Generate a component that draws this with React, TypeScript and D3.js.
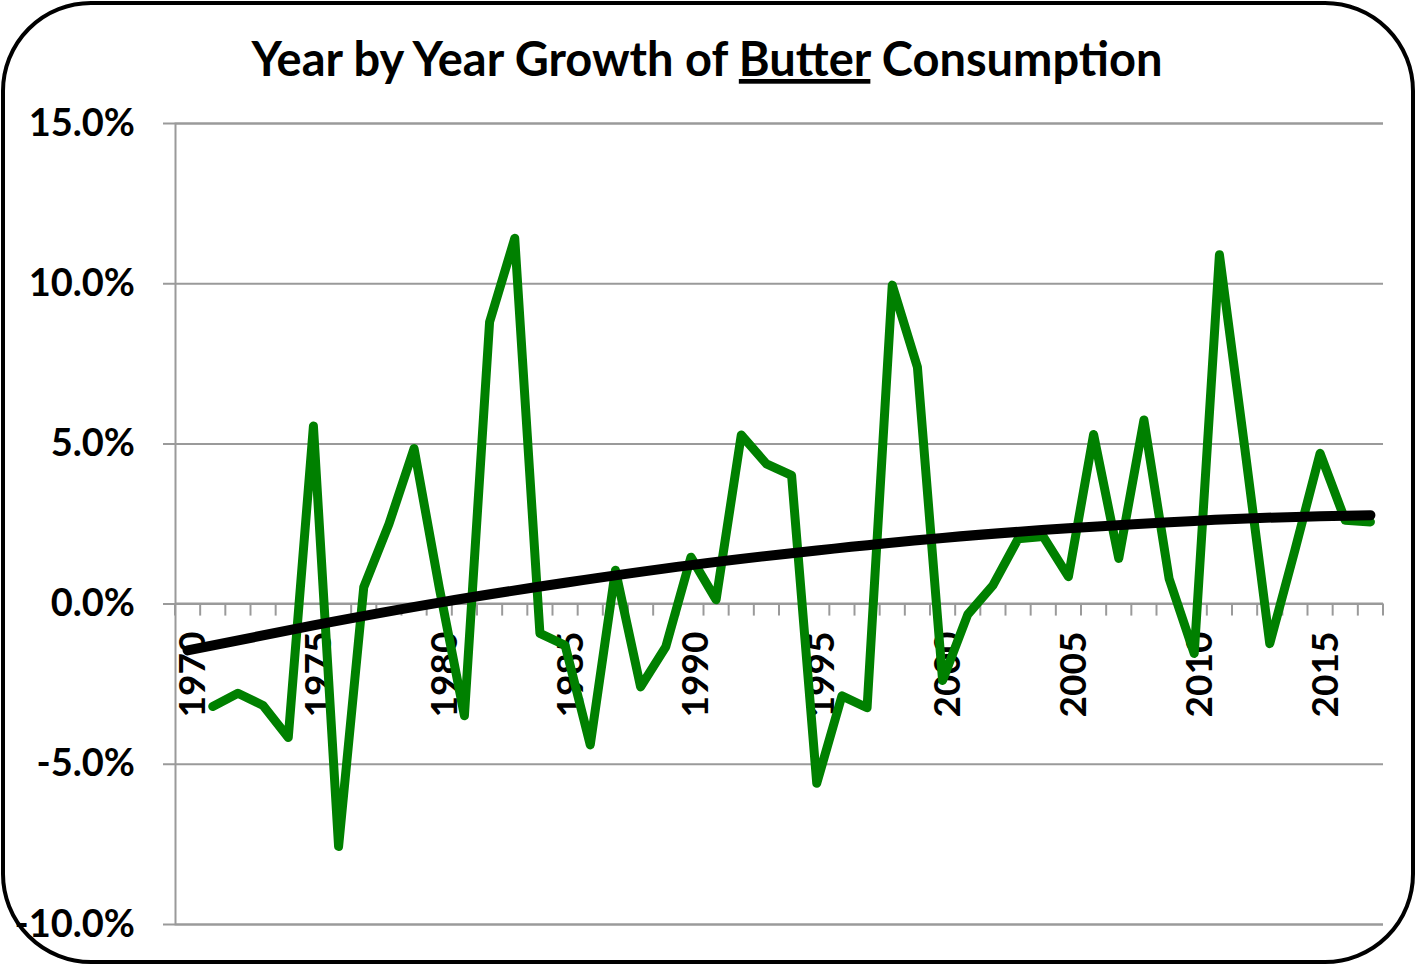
import { useEffect, useRef } from "react";
import * as d3 from "d3";

// one category per year, first year has no growth value
const years = d3.range(1970, 2018);
const growth: (number | null)[] = [
  null, -3.21, -2.8, -3.18, -4.18, 5.54, -7.58, 0.51, 2.48, 4.84,
  0.5, -3.5, 8.79, 11.4, -0.93, -1.3, -4.41, 1.04, -2.6, -1.35,
  1.45, 0.12, 5.26, 4.36, 4.0, -5.61, -2.88, -3.25, 9.94, 7.38,
  -2.4, -0.34, 0.57, 2.02, 2.09, 0.84, 5.28, 1.41, 5.73, 0.78,
  -1.56, 10.89, 4.9, -1.25, 1.67, 4.69, 2.6, 2.55,
];

// trendline
const trendYears = [1970, 1975, 1980, 1985, 1990, 1995, 2000, 2005, 2010, 2015, 2017];
const trendValues = [-1.46, -0.68, 0.03, 0.65, 1.2, 1.66, 2.05, 2.35, 2.58, 2.73, 2.76];

const yTicks = [-10, -5, 0, 5, 10, 15];
const labelYears = [1970, 1975, 1980, 1985, 1990, 1995, 2000, 2005, 2010, 2015];

export default function App() {
  const width = 1416;
  const height = 965;
  const plot = { left: 175, right: 1383, top: 123, bottom: 924 };
  const svgRef = useRef<SVGSVGElement>(null);

  useEffect(() => {
    const svg = d3.select(svgRef.current);
    svg.selectAll("*").remove();

    const font = "Lato, 'Open Sans', sans-serif";
    const grey = "#9a9a9a";

    const xScale = d3
      .scaleBand<number>()
      .domain(years)
      .range([plot.left, plot.right])
      .padding(0);
    const xc = (yr: number) => (xScale(yr) ?? 0) + xScale.bandwidth() / 2;

    const yScale = d3
      .scaleLinear()
      .domain([-10, 15])
      .range([plot.bottom, plot.top]);

    // frame
    svg
      .append("rect")
      .attr("x", 3)
      .attr("y", 3)
      .attr("width", width - 6)
      .attr("height", height - 6)
      .attr("rx", 88)
      .attr("fill", "white")
      .attr("stroke", "black")
      .attr("stroke-width", 4);

    // title
    const title = svg
      .append("text")
      .attr("x", 707)
      .attr("y", 76)
      .attr("text-anchor", "middle")
      .style("font-family", font)
      .style("font-weight", "bold")
      .style("font-size", "47px");
    title.append("tspan").text("Year by Year Growth of ");
    title
      .append("tspan")
      .style("text-decoration", "underline")
      .text("Butter");
    title.append("tspan").text(" Consumption");

    // y axis with gridlines
    const yAxis = svg
      .append("g")
      .attr("transform", `translate(${plot.left}, 0)`)
      .call(
        d3
          .axisLeft(yScale)
          .tickValues(yTicks)
          .tickSize(-(plot.right - plot.left))
          .tickPadding(40)
          .tickFormat((d) => `${(+d).toFixed(1)}%`)
      );
    yAxis.select(".domain").attr("stroke", grey).attr("stroke-width", 2);
    yAxis
      .selectAll(".tick line")
      .attr("x1", -12)
      .attr("stroke", grey)
      .attr("stroke-width", 2);
    yAxis
      .selectAll(".tick text")
      .attr("fill", "black")
      .style("font-family", font)
      .style("font-weight", "bold")
      .style("font-size", "38px");

    // x axis at zero with ticks between categories
    const x0 = yScale(0);
    const boundaries = years.map((yr) => xScale(yr) ?? 0).concat([plot.right]);
    svg
      .append("line")
      .attr("x1", plot.left)
      .attr("x2", plot.right)
      .attr("y1", x0)
      .attr("y2", x0)
      .attr("stroke", grey)
      .attr("stroke-width", 2);
    svg
      .append("g")
      .selectAll("line")
      .data(boundaries)
      .join("line")
      .attr("x1", (d) => d)
      .attr("x2", (d) => d)
      .attr("y1", x0)
      .attr("y2", x0 + 12)
      .attr("stroke", grey)
      .attr("stroke-width", 2);

    // year labels, rotated
    svg
      .append("g")
      .selectAll("text")
      .data(labelYears)
      .join("text")
      .attr("transform", (d) => `translate(${xc(d) + 3}, ${x0 + 28}) rotate(-90)`)
      .attr("text-anchor", "end")
      .attr("dominant-baseline", "central")
      .style("font-family", font)
      .style("font-weight", "bold")
      .style("font-size", "37px")
      .text((d) => d);

    // growth line
    const pts = years
      .map((yr, i) => ({ yr, v: growth[i] }))
      .filter((d) => d.v !== null) as { yr: number; v: number }[];
    const line = d3
      .line<{ yr: number; v: number }>()
      .x((d) => xc(d.yr))
      .y((d) => yScale(d.v));
    svg
      .append("path")
      .datum(pts)
      .attr("d", line)
      .attr("fill", "none")
      .attr("stroke", "#008000")
      .attr("stroke-width", 9)
      .attr("stroke-linejoin", "round")
      .attr("stroke-linecap", "round");

    // trendline
    const trend = trendYears.map((yr, i) => ({ yr, v: trendValues[i] }));
    const trendLine = d3
      .line<{ yr: number; v: number }>()
      .x((d) => xc(d.yr))
      .y((d) => yScale(d.v))
      .curve(d3.curveMonotoneX);
    svg
      .append("path")
      .datum(trend)
      .attr("d", trendLine)
      .attr("fill", "none")
      .attr("stroke", "black")
      .attr("stroke-width", 10)
      .attr("stroke-linecap", "round");
  }, []);

  return (
    <svg
      ref={svgRef}
      width={width}
      height={height}
      style={{ position: "absolute", left: 0, top: 0, background: "white" }}
    />
  );
}
